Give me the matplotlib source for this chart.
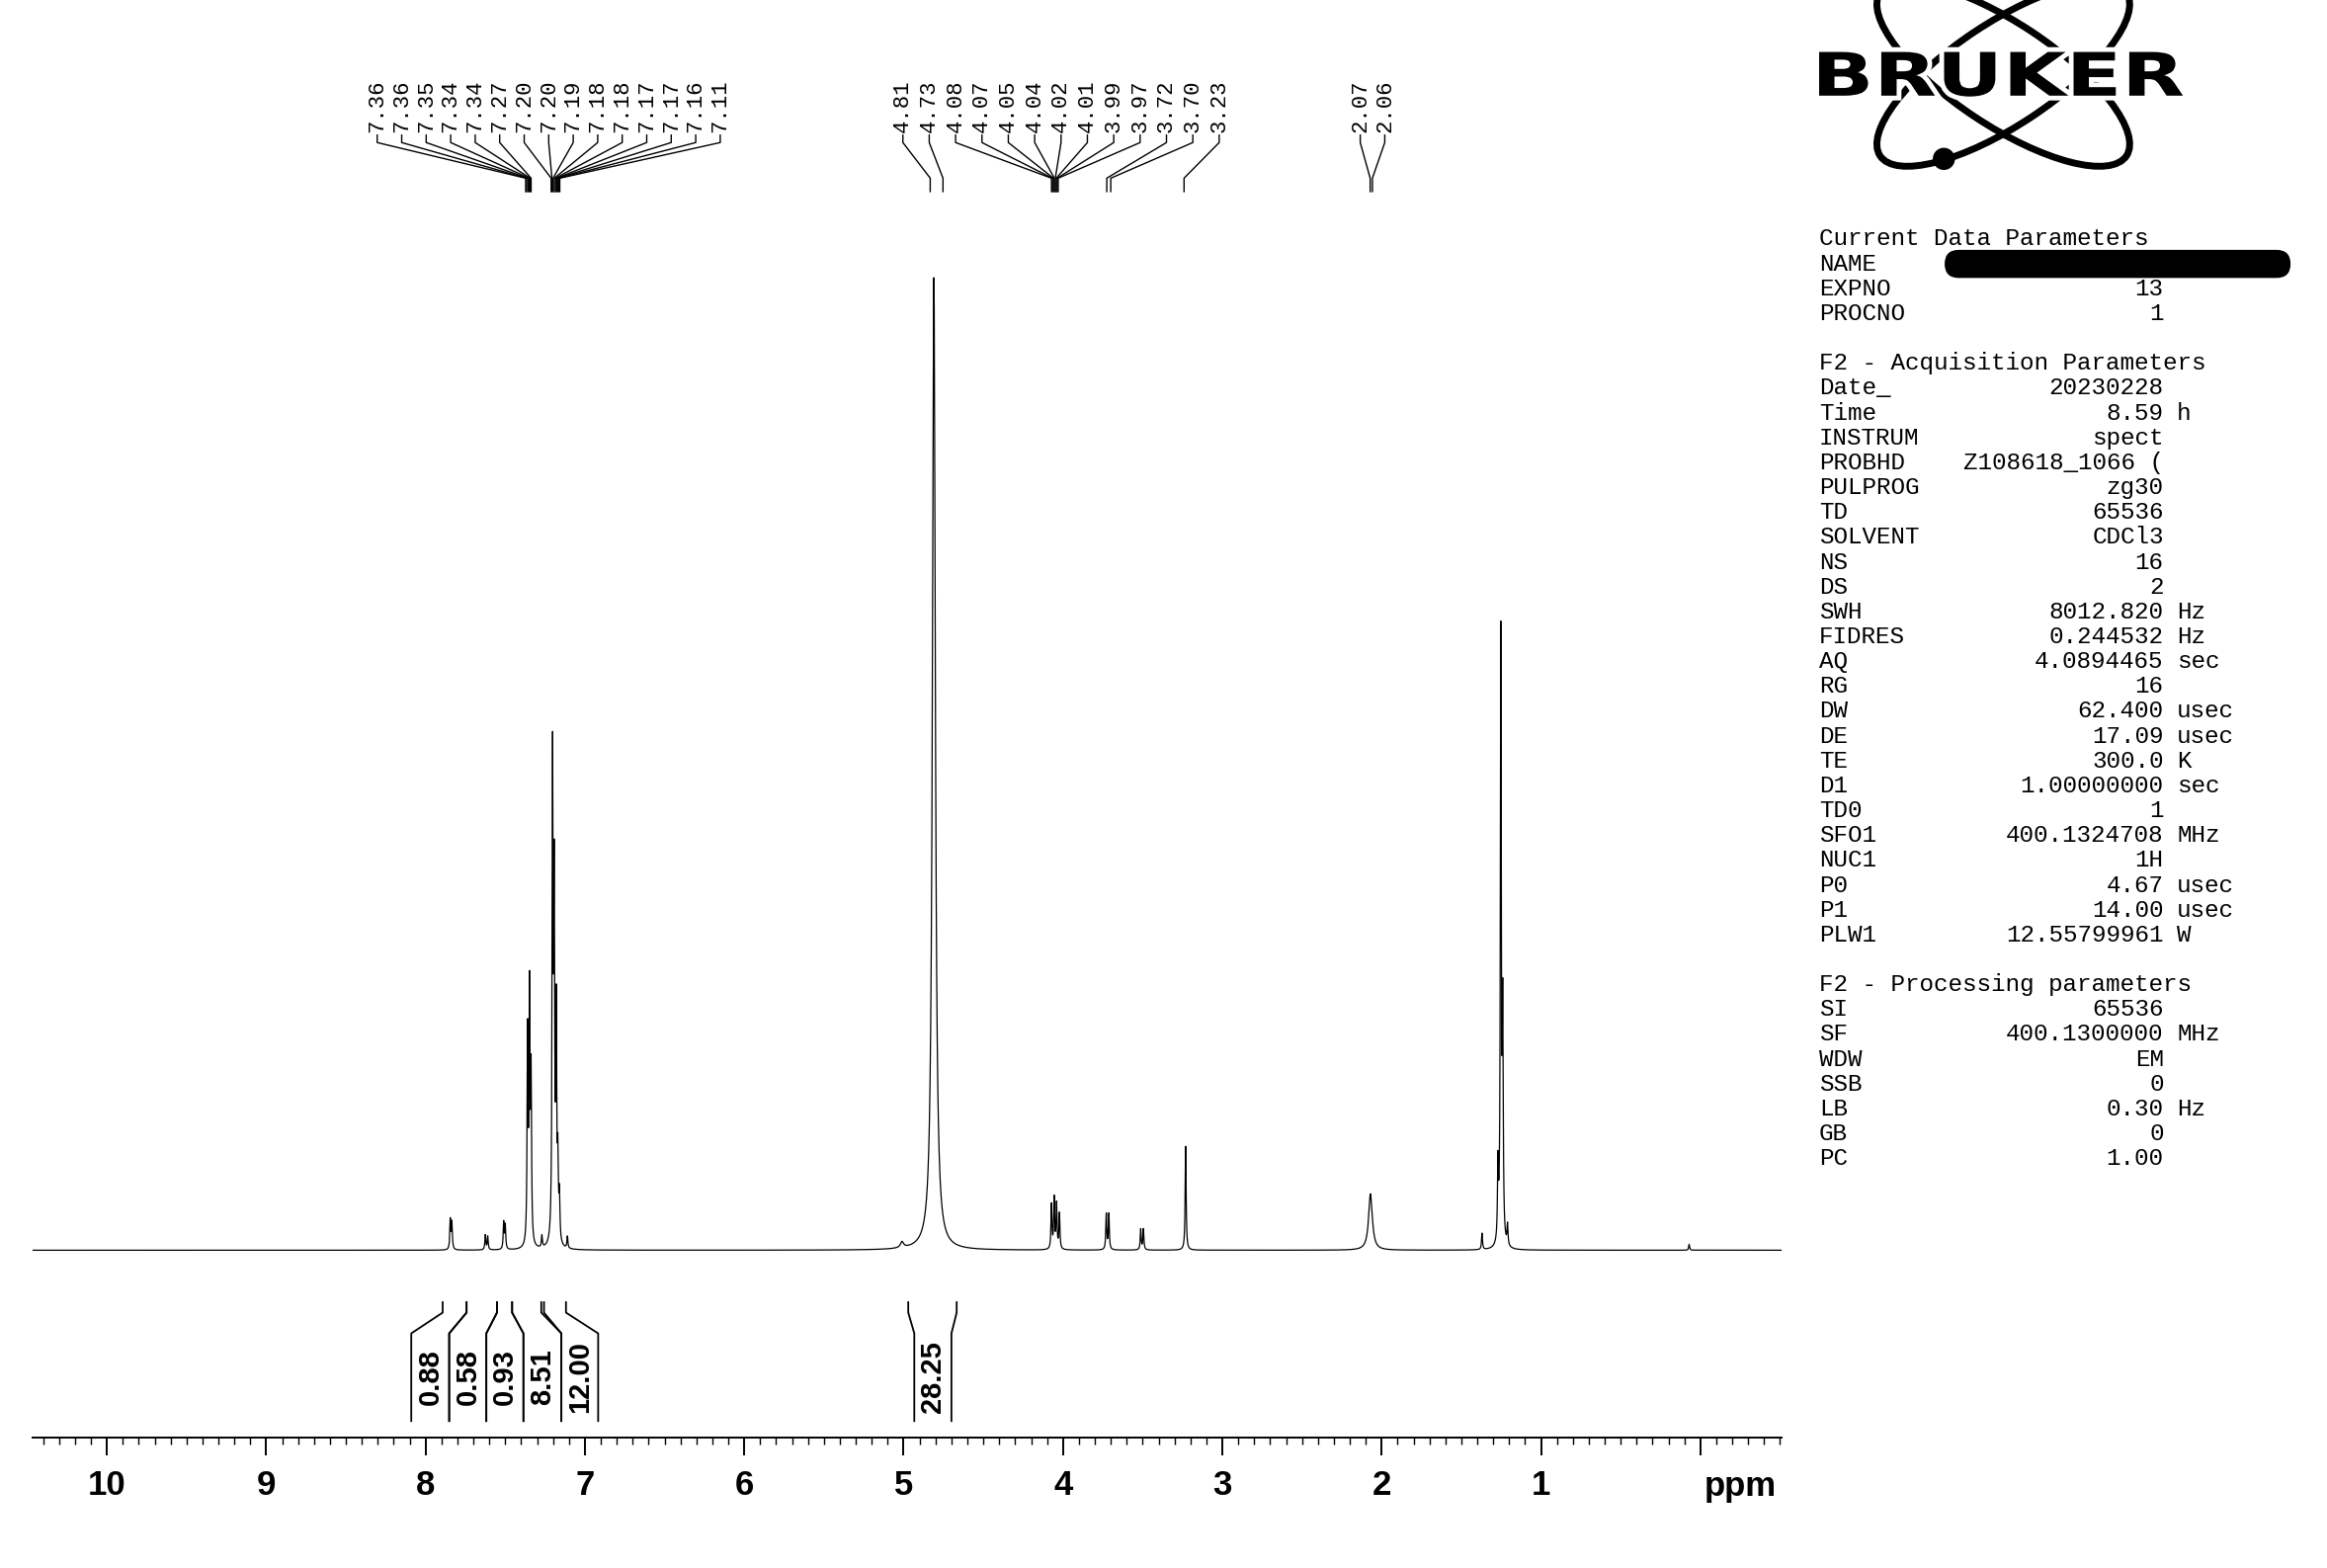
import matplotlib
matplotlib.use("Agg")
import matplotlib.pyplot as plt
import numpy as np
from matplotlib.patches import Ellipse, FancyBboxPatch, Circle, PathPatch
from matplotlib.textpath import TextPath
from matplotlib.font_manager import FontProperties
from matplotlib.transforms import Affine2D

W, H = 1567, 1056  # working pixel grid (scaled to 2355x1587 on save)
X10, PX_PER_PPM = 72.0, 107.3
BASE_Y, AXIS_Y, TOP_Y = 842.0, 968.0, 170.0
LEFT_X, RIGHT_X = 22.0, 1200.0


def ppm_to_px(p):
    return X10 + (10.0 - p) * PX_PER_PPM


# peaks: centre (ppm), height (px above baseline), half width (ppm)
peak_ppm = [7.845, 7.835, 7.625, 7.610, 7.510, 7.500, 7.360, 7.348, 7.338, 7.270,
            7.203, 7.193, 7.180, 7.170, 7.160, 7.110, 5.010, 4.810,
            4.072, 4.055, 4.040, 4.022, 3.728, 3.712, 3.512, 3.495, 3.230,
            2.070, 1.370, 1.270, 1.252, 1.240, 1.210, 0.070]
peak_h = [20, 18, 10, 9, 18, 16, 140, 165, 110, 8,
          320, 230, 150, 50, 30, 8, 4, 655,
          30, 34, 30, 24, 24, 24, 14, 14, 70,
          38, 11, 50, 410, 150, 14, 4]
peak_w = [0.0035] * 16 + [0.012, 0.011] + [0.0035] * 9 + [0.014] + [0.0035] * 6

# peak picking labels
labels_g1 = ["7.36", "7.36", "7.35", "7.34", "7.34", "7.27", "7.20", "7.20",
             "7.19", "7.18", "7.18", "7.17", "7.17", "7.16", "7.11"]
labels_g2 = ["4.81", "4.73", "4.08", "4.07", "4.05", "4.04", "4.02", "4.01",
             "3.99", "3.97", "3.72", "3.70", "3.23"]
labels_g3 = ["2.07", "2.06"]

# integrals: boundary ppm (top) and label-box ppm (bottom)
int_top_l = [7.893, 7.743, 7.552, 7.457, 7.257, 4.971]
int_top_r = [7.743, 7.552, 7.457, 7.274, 7.119, 4.667]
int_box_l = [8.090, 7.852, 7.619, 7.386, 7.148, 4.933]
int_box_r = [7.852, 7.619, 7.386, 7.148, 6.917, 4.700]
int_vals = ["0.88", "0.58", "0.93", "8.51", "12.00", "28.25"]

params = [
    ("Current Data Parameters", None, None),
    ("NAME", "#BLOB", None),
    ("EXPNO", "13", None),
    ("PROCNO", "1", None),
    (None, None, None),
    ("F2 - Acquisition Parameters", None, None),
    ("Date_", "20230228", None),
    ("Time", "8.59", "h"),
    ("INSTRUM", "spect", None),
    ("PROBHD", "Z108618_1066 (", None),
    ("PULPROG", "zg30", None),
    ("TD", "65536", None),
    ("SOLVENT", "CDCl3", None),
    ("NS", "16", None),
    ("DS", "2", None),
    ("SWH", "8012.820", "Hz"),
    ("FIDRES", "0.244532", "Hz"),
    ("AQ", "4.0894465", "sec"),
    ("RG", "16", None),
    ("DW", "62.400", "usec"),
    ("DE", "17.09", "usec"),
    ("TE", "300.0", "K"),
    ("D1", "1.00000000", "sec"),
    ("TD0", "1", None),
    ("SFO1", "400.1324708", "MHz"),
    ("NUC1", "1H", None),
    ("P0", "4.67", "usec"),
    ("P1", "14.00", "usec"),
    ("PLW1", "12.55799961", "W"),
    (None, None, None),
    ("F2 - Processing parameters", None, None),
    ("SI", "65536", None),
    ("SF", "400.1300000", "MHz"),
    ("WDW", "EM", None),
    ("SSB", "0", None),
    ("LB", "0.30", "Hz"),
    ("GB", "0", None),
    ("PC", "1.00", None),
]

fig = plt.figure(figsize=(23.55, 15.87), dpi=100)
sans = "Liberation Sans"
mono = "Liberation Mono"

# ---- spectrum axes ----
ax = fig.add_axes([LEFT_X / W, 1 - AXIS_Y / H, (RIGHT_X - LEFT_X) / W, (AXIS_Y - TOP_Y) / H])
x_left = 10.0 + (X10 - LEFT_X) / PX_PER_PPM
x_right = 10.0 - (RIGHT_X - X10) / PX_PER_PPM
ppm = np.linspace(x_right, x_left, 40000)
spec = np.zeros_like(ppm)
for c, h, w in zip(peak_ppm, peak_h, peak_w):
    spec += h * w**2 / ((ppm - c) ** 2 + w**2)
ax.plot(ppm, spec, color="black", lw=0.9)
ax.set_xlim(x_left, x_right)
ax.set_ylim(-(AXIS_Y - BASE_Y), BASE_Y - TOP_Y)
for s in ("top", "left", "right"):
    ax.spines[s].set_visible(False)
ax.spines["bottom"].set_linewidth(1.4)
ax.set_yticks([])
ax.set_xticks(range(0, 11))
ax.set_xticklabels([""] + [str(i) for i in range(1, 11)])
ax.set_xticks(np.arange(-0.5, 10.5, 0.1), minor=True)
ax.tick_params(axis="x", which="major", direction="out", length=13, width=1.4,
               labelsize=25, pad=10)
ax.tick_params(axis="x", which="minor", direction="out", length=5, width=1.0)
for t in ax.get_xticklabels():
    t.set_fontweight("bold")
    t.set_family(sans)

# ---- overlay in pixel units ----
ov = fig.add_axes([0, 0, 1, 1])
ov.set_xlim(0, W)
ov.set_ylim(H, 0)
ov.axis("off")

ov.text(1172, 1001, "ppm", fontsize=25, fontweight="bold", family=sans,
        ha="center", va="center")


def label_group(labels, x_first, spacing, target_ppm):
    for i, lab in enumerate(labels):
        xl = x_first + i * spacing
        ov.text(xl, 89, lab, rotation=90, ha="center", va="bottom",
                fontsize=16, family=mono)
        xp = ppm_to_px(target_ppm[i])
        ov.plot([xl, xl, xp, xp], [91, 96, 120, 129], color="black", lw=1.0)


g1_ppm = [7.372, 7.366, 7.358, 7.350, 7.344, 7.338, 7.212, 7.207, 7.200,
          7.192, 7.185, 7.178, 7.172, 7.165, 7.158]
label_group(labels_g1, 254, 16.5, g1_ppm)
g2_ppm = [4.833, 4.753, 4.072, 4.066, 4.060, 4.054, 4.048, 4.042, 4.036, 4.030,
          3.725, 3.700, 3.240]
label_group(labels_g2, 608, 17.75, g2_ppm)
label_group(labels_g3, 916, 16.5, [2.072, 2.058])

# integrals
for tl, tr, bl, br, v in zip(int_top_l, int_top_r, int_box_l, int_box_r, int_vals):
    for t, b in ((tl, bl), (tr, br)):
        xt, xb = ppm_to_px(t), ppm_to_px(b)
        ov.plot([xt, xt, xb, xb], [877, 884, 898, 957], color="black", lw=1.3)
    ov.text((ppm_to_px(bl) + ppm_to_px(br)) / 2, 927, v, rotation=90,
            ha="center", va="center", fontsize=21, fontweight="bold", family=sans)

# parameter block
y0, dy = 161, 16.74
for i, (name, val, unit) in enumerate(params):
    y = y0 + i * dy
    if name is None:
        continue
    ov.text(1225, y, name, fontsize=17.5, family=mono, va="center", ha="left")
    if val == "#BLOB":
        ov.add_patch(FancyBboxPatch((1310, y - 9), 232, 18,
                                    boxstyle="round,pad=0,rounding_size=9",
                                    color="black"))
    elif val is not None:
        ov.text(1457, y, val, fontsize=17.5, family=mono, va="center", ha="right")
    if unit:
        ov.text(1466, y, unit, fontsize=17.5, family=mono, va="center", ha="left")

# Bruker logo
for ang in (33.5, -33.5):
    ov.add_patch(Ellipse((1349, 50), 199, 69, angle=ang, fill=False,
                         lw=5, color="black"))
ov.add_patch(Circle((1309, 107), 7, color="black"))
tp = TextPath((0, 0), "BRUKER", size=100,
              prop=FontProperties(family="DejaVu Sans", weight="bold"))
bb = tp.get_extents()
tx = (Affine2D().translate(-bb.x0, -bb.y0)
      .scale(245 / bb.width, -30 / bb.height).translate(1225, 65))
ov.add_patch(PathPatch(tx.transform_path(tp), facecolor="black", edgecolor="white",
                       lw=7, zorder=3))
ov.add_patch(PathPatch(tx.transform_path(tp), facecolor="black", edgecolor="none",
                       zorder=4))

fig.savefig("out.png", dpi=100)
